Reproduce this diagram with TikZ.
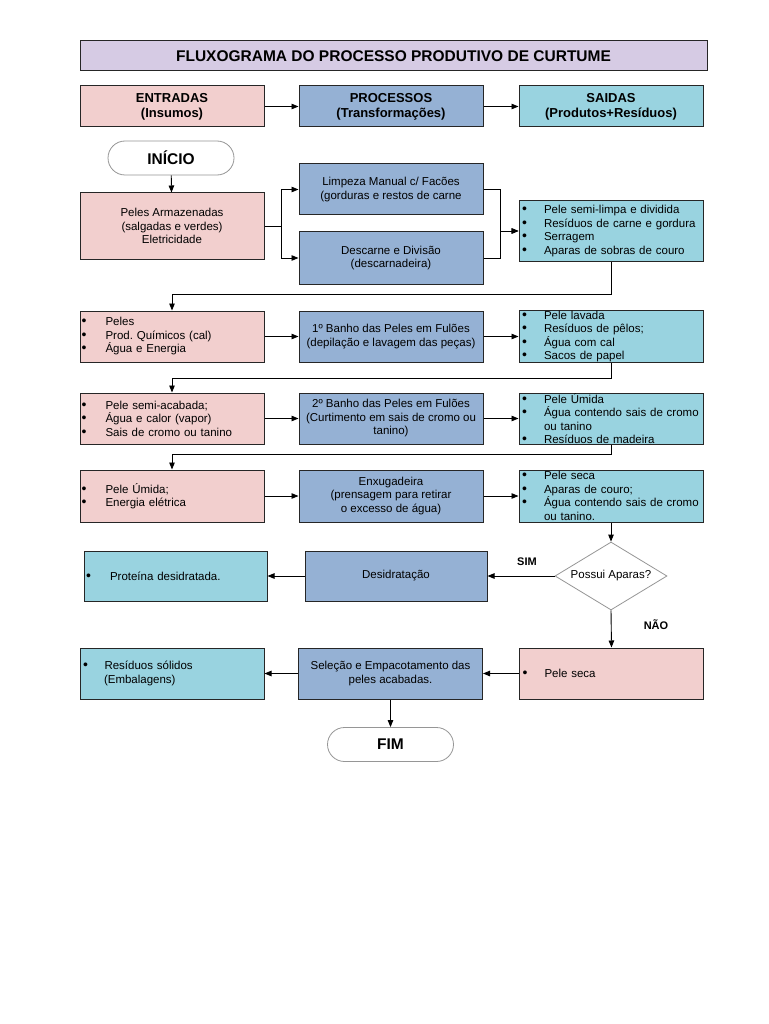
\documentclass[tikz,border=0pt]{standalone}
\usepackage{fontspec}
\setmainfont{Liberation Sans}
\usetikzlibrary{arrows.meta,shapes.geometric}
\frenchspacing
\definecolor{entc}{RGB}{242,207,206}
\definecolor{proc}{RGB}{149,177,212}
\definecolor{saic}{RGB}{153,211,224}
\definecolor{titc}{RGB}{214,203,228}
\definecolor{grayb}{RGB}{150,150,150}
\newcommand{\dotb}{{\fontsize{14}{13.5}\selectfont\textbullet}}
\newcommand{\bp}[1]{\makebox[24pt][l]{\dotb}#1}
\newcommand{\bs}[1]{\makebox[22pt][l]{\dotb}#1}
\newcommand{\bpc}[1]{\makebox[24pt][l]{}#1}
\newcommand{\bsc}[1]{\makebox[22pt][l]{}#1}
\tikzset{
  base/.style={draw=black!85, line width=1pt, inner sep=0pt, align=center,
    minimum width=184pt, font=\fontsize{11.5}{13.5}\selectfont},
  ent/.style={base, fill=entc},
  pro/.style={base, fill=proc},
  sai/.style={base, fill=saic},
  hdr/.style={font=\bfseries\fontsize{13}{15}\selectfont, minimum height=41pt},
  lstp/.style={align=left, inner xsep=1.5pt, text width=181pt},
  lsts/.style={align=left, inner xsep=3pt, text width=178pt},
  term/.style={draw=grayb, line width=0.8pt, fill=white, rounded corners=17pt,
    minimum width=126pt, minimum height=34pt, font=\bfseries\fontsize{15.5}{18}\selectfont},
  conn/.style={draw=black, line width=0.9pt, -{Triangle[length=7pt,width=5.5pt]}},
  lbl/.style={font=\bfseries\fontsize{11}{13}\selectfont},
}
\begin{document}
\begin{tikzpicture}[x=1pt,y=-1pt]
\useasboundingbox (0,0) rectangle (768,1024);
\fill[white] (0,0) rectangle (768,1024);
% title
\node[draw=black!85, line width=1pt, fill=titc, minimum width=627pt, minimum height=30pt,
  inner sep=0pt, font=\bfseries\fontsize{15.5}{18}\selectfont] (title) at (393.5,56)
  {FLUXOGRAMA DO PROCESSO PRODUTIVO DE CURTUME};
% headers
\node[ent,hdr] (hent) at (172,106.5) {ENTRADAS\\(Insumos)};
\node[pro,hdr] (hpro) at (391,106.5) {PROCESSOS\\(Transformações)};
\node[sai,hdr] (hsai) at (611,106.5) {SAIDAS\\(Produtos+Resíduos)};
\draw[conn] (hent) -- (hpro);
\draw[conn] (hpro) -- (hsai);
% start
\node[term] (ini) at (171,158) {INÍCIO};
% row 1
\node[ent, minimum height=66pt] (in1) at (172,226) {Peles Armazenadas\\(salgadas e verdes)\\Eletricidade};
\node[pro, minimum height=51pt] (limp) at (391,189.5) {Limpeza Manual c/ Facões\\(gorduras e restos de carne};
\node[pro, minimum height=52pt] (desc) at (391,258) {Descarne e Divisão\\(descarnadeira)};
\node[sai, lsts, minimum height=60pt] (s1) at (611,231)
  {\bs{Pele semi-limpa e dividida}\\\bs{Resíduos de carne e gordura}\\\bs{Serragem}\\\bs{Aparas de sobras de couro}};
\draw[conn] (ini) -- (in1);
\draw[conn] (in1.east) -- ++(17,0) |- (limp.west);
\draw[conn] (in1.east) -- ++(17,0) |- (desc.west);
\draw[conn] (limp.east) -- ++(17,0) |- (s1.west);
\draw[conn] (desc.east) -- ++(17,0) |- (s1.west);
% row 2
\node[ent, lstp, minimum height=51pt] (in2) at (172,336.5)
  {\bp{Peles}\\\bp{Prod. Químicos (cal)}\\\bp{Água e Energia}};
\node[pro, minimum height=51pt] (pr2) at (391,336.5) {1º Banho das Peles em Fulões\\(depilação e lavagem das peças)};
\node[sai, lsts, minimum height=51pt] (s2) at (611,336.5)
  {\bs{Pele lavada}\\\bs{Resíduos de pêlos;}\\\bs{Água com cal}\\\bs{Sacos de papel}};
\draw[conn] (s1.south) -- ++(0,33) -| (in2.north);
\draw[conn] (in2) -- (pr2);
\draw[conn] (pr2) -- (s2);
% row 3
\node[ent, lstp, minimum height=51pt] (in3) at (172,418.5)
  {\bp{Pele semi-acabada;}\\\bp{Água e calor (vapor)}\\\bp{Sais de cromo ou tanino}};
\node[pro, minimum height=51pt] (pr3) at (391,418.5) {2º Banho das Peles em Fulões\\(Curtimento em sais de cromo ou\\tanino)};
\node[sai, lsts, minimum height=51pt] (s3) at (611,418.5)
  {\bs{Pele Úmida}\\\bs{Água contendo sais de cromo}\\\bsc{ou tanino}\\\bs{Resíduos de madeira}};
\draw[conn] (s2.south) -- ++(0,16) -| (in3.north);
\draw[conn] (in3) -- (pr3);
\draw[conn] (pr3) -- (s3);
% row 4
\node[ent, lstp, minimum height=52pt] (in4) at (172,496)
  {\bp{Pele Úmida;}\\\bp{Energia elétrica}};
\node[pro, minimum height=52pt] (pr4) at (391,496) {Enxugadeira\\(prensagem para retirar\\o excesso de água)};
\node[sai, lsts, minimum height=52pt] (s4) at (611,496)
  {\bs{Pele seca}\\\bs{Aparas de couro;}\\\bs{Água contendo sais de cromo}\\\bsc{ou tanino.}};
\draw[conn] (s3.south) -- ++(0,10) -| (in4.north);
\draw[conn] (in4) -- (pr4);
\draw[conn] (pr4) -- (s4);
% decision
\node[diamond, draw=grayb, line width=0.8pt, fill=white, inner sep=0pt, shape aspect=1.65,
  minimum width=112pt, minimum height=68pt, font=\fontsize{11.5}{13.5}\selectfont] (dia) at (611,576) {Possui Aparas?};
\draw[conn] (s4.south) -- (dia.north);
\node[pro, minimum width=182pt, minimum height=50pt] (des) at (396,576) {Desidratação};
\node[sai, lstp, minimum width=183pt, inner xsep=2pt, text width=179pt, minimum height=50pt] (prot) at (175.5,576)
  {\bp{Proteína desidratada.}};
\draw[conn] (dia.west) -- (des.east);
\draw[conn] (des) -- (prot);
\node[lbl] (sim) at (527,562) {SIM};
\node[lbl] (nao) at (656,625) {NÃO};
% row 6
\node[ent, lsts, minimum height=51pt] (ps) at (611.5,673.5) {\bs{Pele seca}};
\node[pro, minimum height=51pt] (sel) at (390.5,673.5) {Seleção e Empacotamento das\\peles acabadas.};
\node[sai, lstp, inner xsep=3pt, text width=178pt, minimum height=51pt] (res) at (172,673.5)
  {\makebox[21.5pt][l]{\dotb}Resíduos sólidos\\\makebox[21pt][l]{}(Embalagens)};
\draw[conn] (dia.south) -- (ps.north);
\draw[conn] (ps) -- (sel);
\draw[conn] (sel) -- (res);
% end
\node[term] (fim) at (390.5,744.5) {FIM};
\draw[conn] (sel) -- (fim);
\end{tikzpicture}
\end{document}
